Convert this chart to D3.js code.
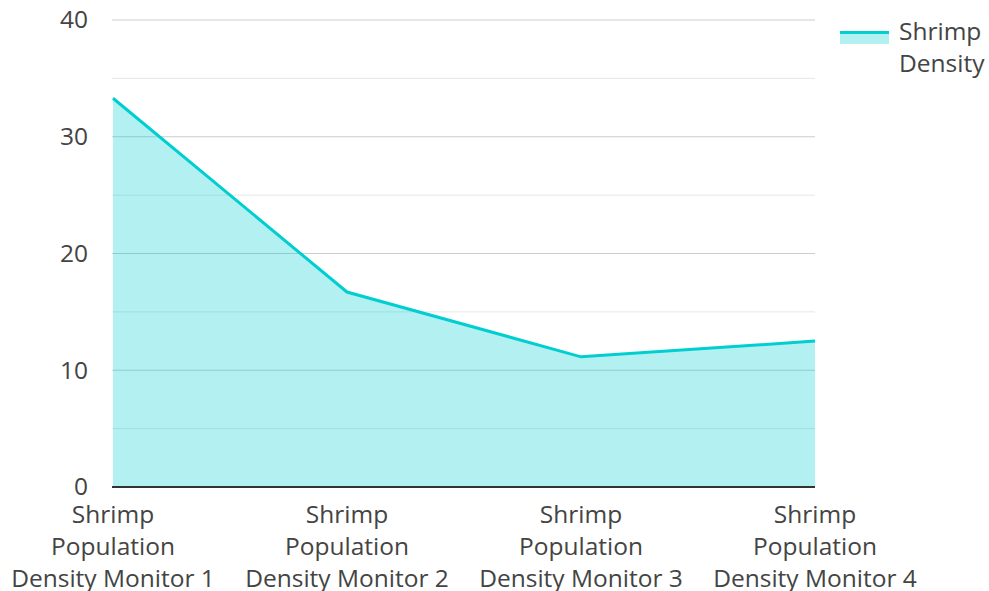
<!DOCTYPE html>
<html>
<head>
<meta charset="utf-8">
<script src="https://cdn.jsdelivr.net/npm/d3@7"></script>
<style>
  html, body { margin: 0; padding: 0; background: #fff; overflow: hidden; }
  svg { display: block; font-family: "Open Sans", "Noto Sans", sans-serif; }
</style>
</head>
<body>
<svg id="chart" width="989" height="591"></svg>
<script>
// Monitoring stations and their measured shrimp density
const categories = [
  "Shrimp Population Density Monitor 1",
  "Shrimp Population Density Monitor 2",
  "Shrimp Population Density Monitor 3",
  "Shrimp Population Density Monitor 4"
];
const densityValues = [33.3, 16.7, 11.15, 12.5];
const seriesName = "Shrimp Density";
const yTicks = [0, 10, 20, 30, 40];
const yMinorTicks = [5, 15, 25, 35];

const svg = d3.select("#chart");
const margin = { left: 113, right: 174, top: 20, bottom: 104 };
const W = 989, H = 591;
const innerW = W - margin.left - margin.right;
const innerH = H - margin.top - margin.bottom;

const lineColor = "#00ced1";
const textColor = "#444";
const fontSize = 24.5;

const x = d3.scalePoint().domain(categories).range([0, innerW]);
const y = d3.scaleLinear().domain([0, 40]).range([innerH, 0]);

const g = svg.append("g").attr("transform", `translate(${margin.left},${margin.top})`);

// minor gridlines
g.append("g").selectAll("line").data(yMinorTicks).join("line")
  .attr("x1", -1).attr("x2", innerW)
  .attr("y1", d => y(d)).attr("y2", d => y(d))
  .attr("stroke", "#e6e6e6").attr("stroke-width", 1);

// major gridlines
g.append("g").selectAll("line").data(yTicks.filter(d => d !== 0)).join("line")
  .attr("x1", -1).attr("x2", innerW)
  .attr("y1", d => y(d)).attr("y2", d => y(d))
  .attr("stroke", "#cccccc").attr("stroke-width", 1);

const pts = categories.map((c, i) => ({ c, v: densityValues[i] }));

// filled area under the series
g.append("path")
  .datum(pts)
  .attr("fill", lineColor)
  .attr("fill-opacity", 0.3)
  .attr("d", d3.area().x(d => x(d.c)).y0(y(0)).y1(d => y(d.v)));

// series line
g.append("path")
  .datum(pts)
  .attr("fill", "none")
  .attr("stroke", lineColor)
  .attr("stroke-width", 3)
  .attr("stroke-linejoin", "miter")
  .attr("d", d3.line().x(d => x(d.c)).y(d => y(d.v)));

// baseline
g.append("line")
  .attr("x1", -1).attr("x2", innerW)
  .attr("y1", y(0)).attr("y2", y(0))
  .attr("stroke", "#333").attr("stroke-width", 2);

// y axis labels
const yAxis = d3.axisLeft(y).tickValues(yTicks).tickSize(0).tickPadding(25);
const ya = g.append("g").call(yAxis);
ya.select(".domain").remove();
ya.selectAll("text")
  .attr("font-size", fontSize)
  .attr("fill", textColor)
  .attr("font-family", "'Open Sans', sans-serif");

// x axis labels, wrapped into three lines
const xWrap = c => {
  const words = c.split(" ");
  return [words[0], words[1], words.slice(2).join(" ")];
};
const xl = g.append("g").selectAll("text").data(categories).join("text")
  .attr("x", d => x(d))
  .attr("y", innerH + 36)
  .attr("text-anchor", "middle")
  .attr("font-size", fontSize)
  .attr("fill", textColor);
xl.selectAll("tspan").data(d => xWrap(d).map(t => ({ t, x: x(d) }))).join("tspan")
  .attr("x", d => d.x)
  .attr("dy", (d, i) => i === 0 ? 0 : 32)
  .text(d => d.t);

// legend
const lg = svg.append("g").attr("transform", "translate(840,31)");
lg.append("rect").attr("x", 0).attr("y", 0).attr("width", 49).attr("height", 13)
  .attr("fill", lineColor).attr("fill-opacity", 0.3);
lg.append("line").attr("x1", 0).attr("x2", 49).attr("y1", 1.5).attr("y2", 1.5)
  .attr("stroke", lineColor).attr("stroke-width", 3);
const lt = lg.append("text").attr("x", 59).attr("y", 8.5)
  .attr("font-size", fontSize).attr("fill", textColor);
lt.selectAll("tspan").data(seriesName.split(" ")).join("tspan")
  .attr("x", 59).attr("dy", (d, i) => i === 0 ? 0 : 32).text(d => d);
</script>
</body>
</html>
